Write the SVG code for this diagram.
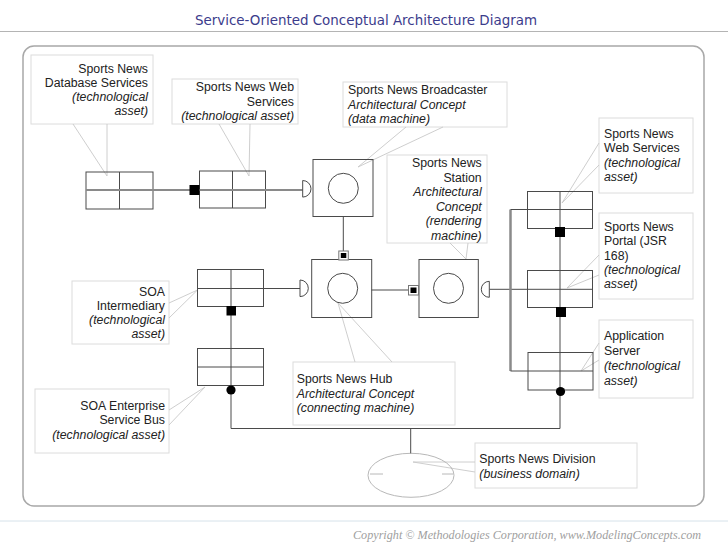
<svg xmlns="http://www.w3.org/2000/svg" width="728" height="546" viewBox="0 0 728 546">
<style>
.t{font-family:"Liberation Sans",Arial,sans-serif;font-size:12.3px;fill:#222}
.i{font-style:italic}
.r{text-anchor:end}
.co{fill:#fff;stroke:#dcdcdc;stroke-width:1}
.pt{fill:none;stroke:#c8c8c8;stroke-width:0.9}
.bx{fill:none;stroke:#4a4a4a;stroke-width:1}
.ln{fill:none;stroke:#4a4a4a;stroke-width:1}
.gl{fill:none;stroke:#8a8a8a;stroke-width:2}
.sq{fill:#000}
.dot{fill:#000}
.sock{fill:#fff;stroke:#4a4a4a;stroke-width:1}
</style>
<rect x="0" y="0" width="728" height="546" fill="#fff"/>
<text x="366" y="25" text-anchor="middle" font-family="'Comic Sans MS','DejaVu Sans',sans-serif" font-size="14" fill="#3c3c8c" textLength="342" lengthAdjust="spacingAndGlyphs">Service-Oriented Conceptual Architecture Diagram</text>
<line x1="0" y1="31.5" x2="728" y2="31.5" stroke="#b4b4b4" stroke-width="1"/>
<rect x="23" y="46" width="681" height="460" rx="11" fill="none" stroke="#a8a8a8" stroke-width="1.5"/>
<line x1="0" y1="521" x2="728" y2="521" stroke="#d6e2ea" stroke-width="1"/>
<text x="701" y="539" text-anchor="end" font-family="'Liberation Serif','Times New Roman',serif" font-style="italic" font-size="12.5" fill="#a0a0a0" textLength="348" lengthAdjust="spacingAndGlyphs">Copyright © Methodologies Corporation, www.ModelingConcepts.com</text>

<g id="db-services">
  <rect class="co" x="31" y="55" width="122" height="69"/>
  <polyline class="pt" points="73,124 107,176 107,124"/>
  <text class="t r" x="148" y="73">Sports News</text>
  <text class="t r" x="148" y="87">Database Services</text>
  <text class="t r i" x="148" y="101">(technological</text>
  <text class="t r i" x="148" y="115">asset)</text>
  <rect class="bx" x="86" y="172" width="67" height="37"/>
  <line class="ln" x1="119.5" y1="172" x2="119.5" y2="209"/>
</g>

<g id="web-services">
  <rect class="co" x="172" y="79" width="126" height="45"/>
  <polyline class="pt" points="219,124 249,176 250,124"/>
  <text class="t r" x="294" y="91">Sports News Web</text>
  <text class="t r" x="294" y="106">Services</text>
  <text class="t r i" x="294" y="120.3">(technological asset)</text>
  <rect class="bx" x="199.5" y="171" width="66" height="37"/>
  <line class="ln" x1="232.5" y1="171" x2="232.5" y2="208"/>
</g>

<g id="broadcaster">
  <rect class="co" x="343" y="82" width="164" height="45"/>
  <polyline class="pt" points="406,127 358,167 443,127"/>
  <text class="t" x="348" y="94.3">Sports News Broadcaster</text>
  <text class="t i" x="348" y="108.7">Architectural Concept</text>
  <text class="t i" x="348" y="123.3">(data machine)</text>
  <rect class="bx" x="313" y="159.5" width="60" height="57"/>
  <circle class="bx" cx="343.3" cy="188.3" r="15"/>
</g>

<g id="station">
  <rect class="co" x="387" y="155" width="100" height="88"/>
  <polyline class="pt" points="450,243 466,259 468,243"/>
  <text class="t r" x="481.7" y="167">Sports News</text>
  <text class="t r" x="481.7" y="181.7">Station</text>
  <text class="t r i" x="481.7" y="196.3">Architectural</text>
  <text class="t r i" x="481.7" y="211">Concept</text>
  <text class="t r i" x="481.7" y="225.3">(rendering</text>
  <text class="t r i" x="481.7" y="240">machine)</text>
  <rect class="bx" x="419" y="259.5" width="59.3" height="58"/>
  <circle class="bx" cx="448.5" cy="288.3" r="15"/>
</g>

<g id="hub">
  <rect class="co" x="293" y="362" width="162" height="63"/>
  <polyline class="pt" points="355,362 338,303 392,362"/>
  <text class="t" x="296.7" y="382.6">Sports News Hub</text>
  <text class="t i" x="296.7" y="397.6">Architectural Concept</text>
  <text class="t i" x="296.7" y="411.6">(connecting machine)</text>
  <rect class="bx" x="311.7" y="259.5" width="60" height="58"/>
  <circle class="bx" cx="342.7" cy="288.3" r="15"/>
</g>

<g id="soa-intermediary">
  <rect class="co" x="72" y="281" width="97" height="63"/>
  <polyline class="pt" points="169,303 197.5,290 169,318"/>
  <text class="t r" x="165" y="296">SOA</text>
  <text class="t r" x="165" y="310">Intermediary</text>
  <text class="t r i" x="165" y="324.3">(technological</text>
  <text class="t r i" x="165" y="338.3">asset)</text>
  <rect class="bx" x="197.5" y="269.5" width="66" height="37"/>
  <line class="ln" x1="197.5" y1="288.5" x2="263.5" y2="288.5"/>
  <line class="ln" x1="231" y1="269.5" x2="231" y2="306.5"/>
</g>

<g id="soa-esb">
  <rect class="co" x="35" y="389" width="134" height="64"/>
  <polyline class="pt" points="169,410 205,387 169,425"/>
  <text class="t r" x="165" y="410.3">SOA Enterprise</text>
  <text class="t r" x="165" y="424.3">Service Bus</text>
  <text class="t r i" x="165" y="438.6">(technological asset)</text>
  <rect class="bx" x="197.5" y="348.5" width="66" height="37"/>
  <line class="ln" x1="197.5" y1="367" x2="263.5" y2="367"/>
  <line class="ln" x1="231" y1="348.5" x2="231" y2="385.5"/>
</g>

<g id="right-web-services">
  <rect class="co" x="599" y="118" width="94" height="75"/>
  <polyline class="pt" points="599,143 562,203 599,165"/>
  <text class="t" x="604" y="138.3">Sports News</text>
  <text class="t" x="604" y="152.3">Web Services</text>
  <text class="t i" x="604" y="166.6">(technological</text>
  <text class="t i" x="604" y="180.6">asset)</text>
  <rect class="bx" x="527.5" y="191.5" width="65" height="37"/>
  <line class="ln" x1="527.5" y1="209.5" x2="592.5" y2="209.5"/>
  <line class="ln" x1="560" y1="191.5" x2="560" y2="228.5"/>
</g>

<g id="portal">
  <rect class="co" x="599" y="213" width="94" height="86"/>
  <polyline class="pt" points="599,255 567,288 599,275"/>
  <text class="t" x="604" y="231">Sports News</text>
  <text class="t" x="604" y="245.3">Portal (JSR</text>
  <text class="t" x="604" y="259.6">168)</text>
  <text class="t i" x="604" y="274.3">(technological</text>
  <text class="t i" x="604" y="288.3">asset)</text>
  <rect class="bx" x="527.5" y="270.5" width="65" height="37"/>
  <line class="ln" x1="527.5" y1="289.3" x2="592.5" y2="289.3"/>
  <line class="ln" x1="560" y1="270.5" x2="560" y2="307.5"/>
</g>

<g id="app-server">
  <rect class="co" x="599" y="320" width="94" height="78"/>
  <polyline class="pt" points="599,343 581,371 599,360"/>
  <text class="t" x="604" y="340.3">Application</text>
  <text class="t" x="604" y="355.3">Server</text>
  <text class="t i" x="604" y="370.3">(technological</text>
  <text class="t i" x="604" y="385">asset)</text>
  <rect class="bx" x="528" y="352.5" width="65" height="37.5"/>
  <line class="ln" x1="528" y1="371" x2="593" y2="371"/>
  <line class="ln" x1="560" y1="352.5" x2="560" y2="390"/>
</g>

<g id="division">
  <rect class="co" x="475" y="443" width="162" height="45"/>
  <polyline class="pt" points="475,462 413,462 475,472"/>
  <text class="t" x="479.3" y="463.3">Sports News Division</text>
  <text class="t i" x="479.3" y="477.6">(business domain)</text>
  <ellipse cx="411" cy="475.3" rx="43" ry="22" fill="none" stroke="#b8b8b8" stroke-width="1"/>
  <line x1="370" y1="474" x2="383" y2="474" stroke="#b8b8b8" stroke-width="1"/>
  <line x1="442" y1="474" x2="453" y2="474" stroke="#b8b8b8" stroke-width="1"/>
</g>

<g id="connectors">
  <line class="gl" x1="86" y1="190" x2="190" y2="190"/>
  <line class="gl" x1="199" y1="190" x2="303" y2="190"/>
  <line class="ln" x1="343.3" y1="216.5" x2="343.3" y2="251"/>
  <line class="ln" x1="263.5" y1="288.5" x2="300" y2="288.5"/>
  <line class="ln" x1="371.5" y1="290" x2="408.5" y2="290"/>
  <line class="ln" x1="489.3" y1="289.3" x2="527.5" y2="289.3"/>
  <line x1="510.5" y1="209.5" x2="510.5" y2="371" stroke="#8a8a8a" stroke-width="2.5"/>
  <line class="ln" x1="510.5" y1="209.5" x2="527.5" y2="209.5"/>
  <line class="ln" x1="510.5" y1="371" x2="528" y2="371"/>
  <line class="ln" x1="231" y1="306.5" x2="231" y2="348.5"/>
  <line class="ln" x1="231" y1="385.5" x2="231" y2="428.5"/>
  <line class="ln" x1="560" y1="228.5" x2="560" y2="270.5"/>
  <line class="ln" x1="560" y1="307.5" x2="560" y2="352.5"/>
  <line class="ln" x1="560" y1="390" x2="560" y2="428.5"/>
  <line x1="231" y1="428.5" x2="560" y2="428.5" stroke="#4a4a4a" stroke-width="1.2"/>
  <line class="ln" x1="410.7" y1="428.5" x2="410.7" y2="453.3"/>
  <rect class="sq" x="189.5" y="185" width="10" height="10"/>
  <rect class="sq" x="226.5" y="306" width="9.5" height="9.5"/>
  <rect class="sq" x="555" y="227" width="10" height="10"/>
  <rect class="sq" x="556" y="307" width="10" height="10"/>
  <circle class="dot" cx="231" cy="390" r="4.6"/>
  <circle class="dot" cx="560.5" cy="391.5" r="4.6"/>
  <path class="sock" d="M302.7,180.5 A8.3,8.3 0 0 1 302.7,197.1 Z"/>
  <path class="sock" d="M300,280 A8.3,8.3 0 0 1 300,296.6 Z"/>
  <path class="sock" d="M489.3,281.3 A8,8 0 0 0 489.3,297.3 Z"/>
  <rect x="338.8" y="251" width="9.5" height="9" fill="#fff" stroke="#777" stroke-width="1"/>
  <rect x="340.8" y="253" width="5.5" height="5" fill="#000"/>
  <rect x="408.5" y="285.5" width="10" height="9.5" fill="#fff" stroke="#777" stroke-width="1"/>
  <rect x="410.5" y="287.5" width="6" height="5.5" fill="#000"/>
</g>
</svg>
